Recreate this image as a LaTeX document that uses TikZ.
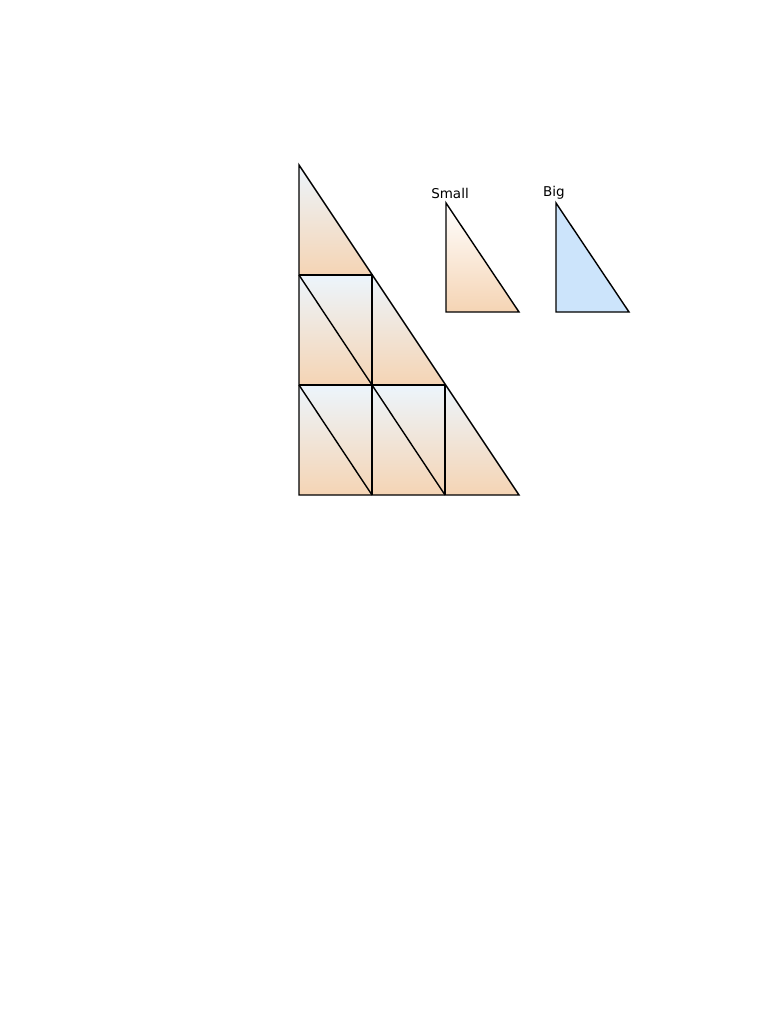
\documentclass[tikz,border=0pt]{standalone}
\usepackage{fontspec}
\setmainfont{DejaVu Sans}
\definecolor{paleorange}{RGB}{245,212,180}
\definecolor{paleblue}{RGB}{236,245,252}
\definecolor{bigblue}{RGB}{204,228,251}
\tikzset{
  edge/.style={draw=black, line width=1.4pt, line join=miter},
  rowshade/.style={top color=paleblue, bottom color=paleorange},
  smallshade/.style={top color=white, bottom color=paleorange},
  lbl/.style={font=\fontsize{13.5}{16}\selectfont, inner sep=0pt}
}
\begin{document}
\begin{tikzpicture}[x=1pt,y=-1pt]
\useasboundingbox (0,0) rectangle (768,1024);
% big staircase triangle fills
\shade[rowshade] (299,165) -- (372,275) -- (299,275) -- cycle;
\shade[rowshade] (299,275) -- (372,275) -- (445,385) -- (299,385) -- cycle;
\shade[rowshade] (299,385) -- (445,385) -- (519,495) -- (299,495) -- cycle;
% outline and grid
\draw[edge] (299,165) -- (519,495) -- (299,495) -- cycle;
\draw[edge] (299,275) -- (372,275) -- (372,495);
\draw[edge] (299,385) -- (445,385) -- (445,495);
\draw[edge] (299,275) -- (372,385);
\draw[edge] (299,385) -- (372,495);
\draw[edge] (372,385) -- (445,495);
% small triangle
\shade[smallshade] (446,203) -- (519,312) -- (446,312) -- cycle;
\draw[edge] (446,203) -- (519,312) -- (446,312) -- cycle;
\node[lbl] (small) at (450,193) {Small};
% big triangle
\fill[bigblue] (556,203) -- (629,312) -- (556,312) -- cycle;
\draw[edge] (556,203) -- (629,312) -- (556,312) -- cycle;
\node[lbl] (big) at (554,193) {Big};
\end{tikzpicture}
\end{document}
